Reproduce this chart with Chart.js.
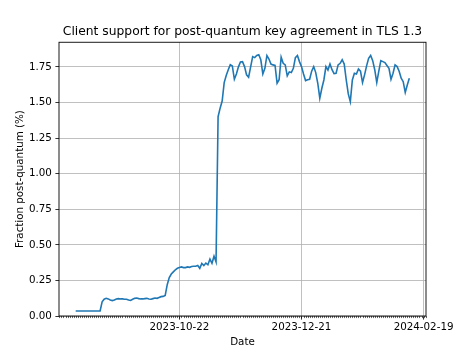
<!DOCTYPE html>
<html>
<head>
<meta charset="utf-8">
<script src="https://cdn.jsdelivr.net/npm/chart.js@4"></script>
<style>
html,body{margin:0;padding:0;background:#fff;}
#wrap{width:474px;height:355px;}
</style>
</head>
<body>
<div id="wrap"><canvas id="c" width="474" height="355"></canvas></div>
<script>
// ---- data ----
const startDate = '2023-09-01';
const tickDates = ['2023-10-22', '2023-12-21', '2024-02-19'];
const yTicks = [0, 0.25, 0.5, 0.75, 1.0, 1.25, 1.5, 1.75];
// daily fraction (%) from 2023-09-01 to 2024-02-12
const values = [
  0.035, 0.035, 0.035, 0.035, 0.035, 0.035, 0.035, 0.035, 0.035, 0.035, 0.035, 0.035, 0.035,
  0.100, 0.118, 0.124, 0.120, 0.112, 0.108, 0.113, 0.120, 0.122, 0.120, 0.120, 0.118, 0.118,
  0.112, 0.110, 0.118, 0.124, 0.126, 0.122, 0.120, 0.120, 0.122, 0.124, 0.120, 0.118, 0.122,
  0.126, 0.124, 0.130, 0.136, 0.138, 0.145, 0.220, 0.270, 0.295, 0.310, 0.325, 0.335,
  0.340, 0.345, 0.340, 0.340, 0.345, 0.342, 0.348, 0.350, 0.350, 0.355, 0.335, 0.370,
  0.355, 0.372, 0.360, 0.400, 0.370, 0.420, 0.380,
  1.400, 1.460, 1.510, 1.640, 1.690, 1.730, 1.765, 1.757, 1.663, 1.700, 1.750, 1.785,
  1.787, 1.752, 1.694, 1.677, 1.750, 1.822, 1.815, 1.830, 1.835, 1.800, 1.700, 1.740,
  1.830, 1.805, 1.770, 1.764, 1.760, 1.635, 1.660, 1.818, 1.775, 1.764, 1.687, 1.715,
  1.710, 1.740, 1.815, 1.830, 1.787, 1.752, 1.700, 1.654, 1.660, 1.663, 1.720, 1.752,
  1.710, 1.635, 1.530, 1.600, 1.658, 1.752, 1.728, 1.770, 1.730, 1.703, 1.705, 1.764,
  1.775, 1.800, 1.770, 1.658, 1.560, 1.506, 1.658, 1.705, 1.700, 1.735, 1.720, 1.640,
  1.694, 1.757, 1.810, 1.830, 1.794, 1.730, 1.640, 1.720, 1.794, 1.787, 1.780, 1.760,
  1.740, 1.663, 1.705, 1.764, 1.752, 1.720, 1.670, 1.646, 1.570, 1.623, 1.670
];

const DAY = 86400000;
const t0 = Date.parse(startDate + 'T00:00:00Z');
const dayOf = s => Math.round((Date.parse(s + 'T00:00:00Z') - t0) / DAY);
const labelOf = d => new Date(t0 + d * DAY).toISOString().slice(0, 10);
const points = values.map((v, i) => ({x: i, y: v}));
const span = values.length - 1;
const xMin = -0.05 * span, xMax = span + 0.05 * span;

const FONT = 'DejaVu Sans';

const frame = {
  id: 'frame',
  afterDraw(chart) {
    const {ctx, chartArea: a, scales} = chart;
    ctx.save();
    // minor daily ticks
    ctx.strokeStyle = '#000';
    ctx.lineWidth = 0.6;
    ctx.beginPath();
    for (let d = Math.ceil(xMin); d <= Math.floor(xMax); d++) {
      const x = Math.round(scales.x.getPixelForValue(d)) + 0.5;
      ctx.moveTo(x, a.bottom);
      ctx.lineTo(x, a.bottom + 2.1);
    }
    ctx.stroke();
    // spines
    ctx.lineWidth = 0.9;
    ctx.strokeStyle = '#000';
    ctx.strokeRect(a.left, a.top, a.right - a.left, a.bottom - a.top);
    ctx.restore();
  }
};

new Chart(document.getElementById('c'), {
  type: 'line',
  data: {
    datasets: [{
      data: points,
      borderColor: '#1f77b4',
      borderWidth: 1.6,
      pointRadius: 0,
      tension: 0,
      fill: false
    }]
  },
  options: {
    responsive: false,
    animation: false,
    layout: {padding: {left: 0, right: 48, top: 0, bottom: 0}},
    plugins: {
      legend: {display: false},
      tooltip: {enabled: false},
      title: {
        display: true,
        fullSize: false,
        text: 'Client support for post-quantum key agreement in TLS 1.3',
        color: '#000',
        font: {family: FONT, size: 12.3, weight: 'normal', lineHeight: 1.2},
        padding: {top: 24, bottom: 3.5}
      }
    },
    scales: {
      x: {
        type: 'linear',
        min: xMin,
        max: xMax,
        afterBuildTicks: s => { s.ticks = tickDates.map(t => ({value: dayOf(t)})); },
        afterFit: s => { s.height = 39; },
        ticks: {
          callback: v => labelOf(v),
          color: '#000',
          autoSkip: false,
          maxRotation: 0,
          padding: 2,
          font: {family: FONT, size: 10.3}
        },
        grid: {color: '#b0b0b0', lineWidth: 0.8, tickColor: '#000', tickLength: 3.6, tickWidth: 0.8},
        border: {display: false},
        title: {
          display: true, text: 'Date', color: '#000',
          font: {family: FONT, size: 10.3, lineHeight: 1.2},
          padding: {top: 0, bottom: 6.3}
        }
      },
      y: {
        type: 'linear',
        min: 0,
        max: 1.923,
        afterBuildTicks: s => { s.ticks = yTicks.map(v => ({value: v})); },
        afterFit: s => { s.width = 59; },
        ticks: {
          callback: v => v.toFixed(2),
          color: '#000',
          padding: 3.5,
          font: {family: FONT, size: 10.3}
        },
        grid: {color: '#b0b0b0', lineWidth: 0.8, tickColor: '#000', tickLength: 3.6, tickWidth: 0.8},
        border: {display: false},
        title: {
          display: true, text: 'Fraction post-quantum (%)', color: '#000',
          font: {family: FONT, size: 10.3, lineHeight: 1.2},
          padding: {top: 14, bottom: 0}
        }
      }
    }
  },
  plugins: [frame]
});
</script>
</body>
</html>
